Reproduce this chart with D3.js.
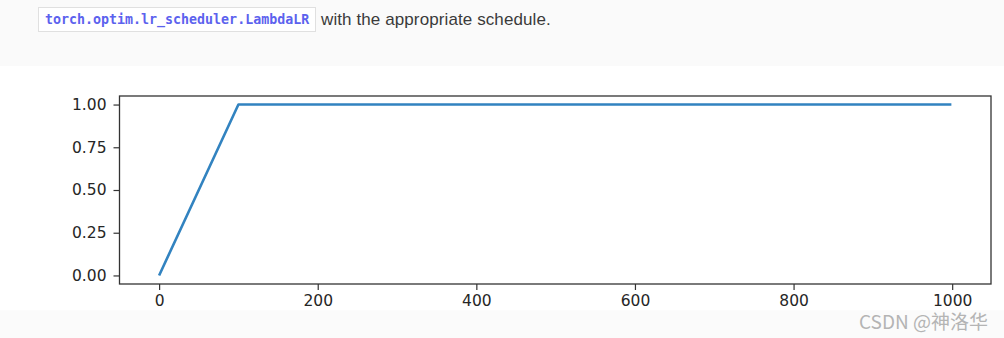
<!DOCTYPE html>
<html><head><meta charset="utf-8">
<script src="https://cdn.jsdelivr.net/npm/d3@7"></script>
<style>
html,body{margin:0;padding:0;background:#fafafa;}
svg{display:block;}
</style></head>
<body>
<svg id="c" width="1004" height="338"></svg>
<script>
// Data
const steps = [0, 100, 999];
const lrFactor = [0, 1, 1];
const xTicks = [0, 200, 400, 600, 800, 1000];
const yTicks = [0.00, 0.25, 0.50, 0.75, 1.00];
const codeText = "torch.optim.lr_scheduler.LambdaLR";
const proseText = "with the appropriate schedule.";
const watermark = "CSDN @神洛华";

const svg = d3.select("#c");
svg.append("rect").attr("x",0).attr("y",0).attr("width",1004).attr("height",338).attr("fill","#fafafa");
svg.append("rect").attr("x",0).attr("y",66).attr("width",1004).attr("height",244.5).attr("fill","#ffffff");

// header line
svg.append("rect").attr("x",38.5).attr("y",7.5).attr("width",277).attr("height",24)
  .attr("fill","#ffffff").attr("stroke","#e0e0e0").attr("stroke-width",1);
svg.append("text").attr("x",45).attr("y",24).text(codeText)
  .attr("font-family","'DejaVu Sans Mono', monospace").attr("font-weight","bold")
  .attr("font-size","13.3px").attr("fill","#5c62ee");
svg.append("text").attr("x",321).attr("y",24.5).text(proseText)
  .attr("font-family","'Liberation Sans', Arial, sans-serif")
  .attr("font-size","17px").attr("letter-spacing","0.1px").attr("fill","#3a3a3a");

// chart
const L = 119.5, R = 991, T = 96, B = 284;
const x = d3.scaleLinear().domain([-49.95, 1048.95]).range([L, R]);
const y = d3.scaleLinear().domain([-0.05, 1.05]).range([B, T]);

const fontCss = "'DejaVu Sans', sans-serif";
const gx = svg.append("g").attr("transform",`translate(0,${B})`)
  .call(d3.axisBottom(x).tickValues(xTicks).tickFormat(d3.format("d")).tickSize(6).tickPadding(5));
const gy = svg.append("g").attr("transform",`translate(${L},0)`)
  .call(d3.axisLeft(y).tickValues(yTicks).tickFormat(d3.format(".2f")).tickSize(6).tickPadding(7));
[gx, gy].forEach(g => {
  g.select(".domain").remove();
  g.selectAll(".tick line").attr("stroke","#333").attr("stroke-width",1.2);
  g.selectAll(".tick text").attr("font-family",fontCss).attr("font-size","15.5px").attr("fill","#262626");
});

const line = d3.line().x((d,i)=>x(steps[i])).y(d=>y(d));
svg.append("path").datum(lrFactor).attr("d",line)
  .attr("fill","none").attr("stroke","#3283c0").attr("stroke-width",2.6).attr("stroke-linejoin","round");

svg.append("rect").attr("x",L).attr("y",T).attr("width",R-L).attr("height",B-T)
  .attr("fill","none").attr("stroke","#333").attr("stroke-width",1.3);

// bottom band overlaps the tick labels slightly
svg.append("rect").attr("x",0).attr("y",310.5).attr("width",1004).attr("height",28).attr("fill","#fafafa").attr("fill-opacity",0.85);

svg.append("text").attr("x",988).attr("y",329).attr("text-anchor","end").text(watermark)
  .attr("font-family","'Noto Sans CJK SC', 'Noto Sans', sans-serif")
  .attr("font-size","19px").attr("fill","#b4b4b4");
</script>
</body></html>
